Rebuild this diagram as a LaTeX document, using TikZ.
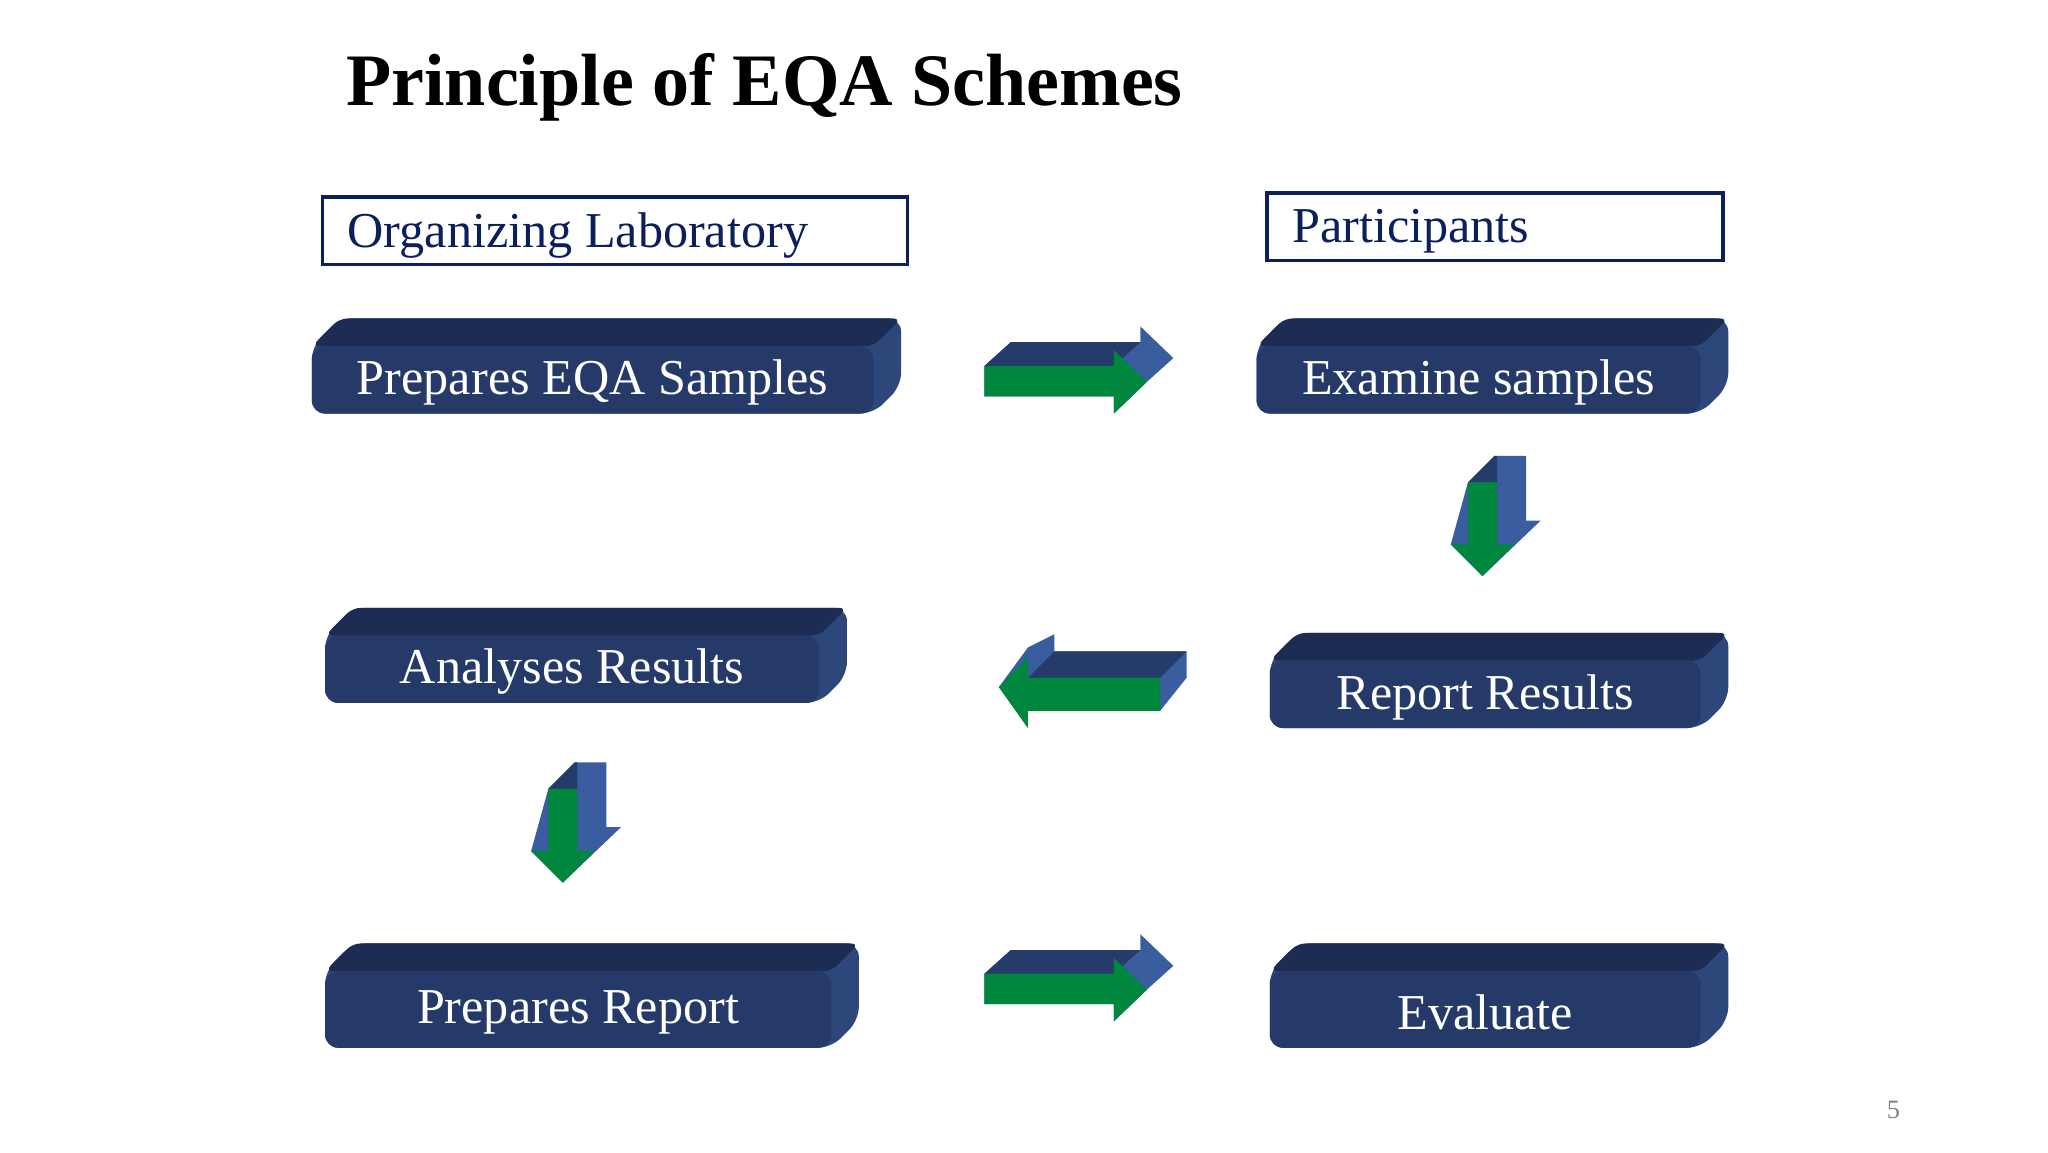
\documentclass[tikz,border=0pt]{standalone}
\usepackage{fontspec}
\setmainfont{Liberation Serif}
\definecolor{fr}{HTML}{253A68}
\definecolor{tp}{HTML}{1C2C52}
\definecolor{sd}{HTML}{2E477A}
\definecolor{ab}{HTML}{3A5DA0}
\definecolor{ag}{HTML}{00873E}
\definecolor{nv}{HTML}{0A1F5C}
\newcommand\slab[6]{%
 \fill[sd,rounded corners=5pt] (#1,#4) -- (#1,{#2+21}) -- ({#1+21},#2) -- (#3,#2) -- (#3,{#4-21}) -- ({#3-21},#4) -- cycle;
 \fill[tp,rounded corners=3pt] (#1,{#2+21}) -- ({#1+21},#2) -- (#3,#2) -- ({#3-21},{#2+21}) -- cycle;
 \fill[fr,rounded corners=5pt] (#1,{#2+21}) rectangle ({#3-21},#4);
 \node[boxtext] (#5) at ({(#1+#3-21)/2},{(#2+21+#4)/2+2}) {#6};}
\tikzset{boxtext/.style={text=white,font=\fontsize{19}{22}\selectfont},
 hdr/.style={draw=nv,line width=1.5pt,text=nv,font=\fontsize{19}{22}\selectfont,anchor=west,inner sep=0},
 arr/.style={fill=ag}, arrb/.style={fill=ab}}
\begin{document}
\begin{tikzpicture}[x=0.5pt,y=-0.5pt]
\useasboundingbox (0,0) rectangle (1550,872);
\node[font=\fontsize{28}{32}\selectfont\bfseries,anchor=west] (title) at (255,66) {Principle of EQA Schemes};
\draw[nv,line width=1.3pt] (244,149) rectangle (687,200);
\node[text=nv,font=\fontsize{19}{22}\selectfont,anchor=west] (org) at (256,178) {Organizing Laboratory};
\draw[nv,line width=1.3pt] (959,146) rectangle (1304,197);
\node[text=nv,font=\fontsize{19}{22}\selectfont,anchor=west] (par) at (971,175) {Participants};
\slab{236}{241}{682}{313}{b1}{Prepares EQA Samples}
\slab{951}{241}{1308}{313}{b2}{Examine samples}
\slab{246}{460}{641}{532}{b3}{Analyses Results}
\slab{961}{479}{1308}{551}{b4}{Report Results}
\slab{246}{714}{650}{793}{b5}{Prepares Report}
\slab{961}{714}{1308}{793}{b6}{Evaluate}
% right arrows
\foreach \yy/\nm in {0/r1,460/r2}{
 \begin{scope}[yshift=-\yy*0.5pt]
 \fill[ab] (745,277) -- (765,259) -- (863,259) -- (863,247) -- (888,271) -- (868,289) -- (843,313) -- (843,300) -- (745,300) -- cycle;
 \fill[tp!70!ab] (745,277) -- (765,259) -- (863,259) -- (843,277) -- cycle;
 \fill[arr] (745,277) -- (843,277) -- (843,265) -- (868,289) -- (843,313) -- (843,300) -- (745,300) -- cycle;
 \coordinate (\nm) at (815,288);
 \end{scope}}
% left arrow
\fill[ab] (756,520) -- (778,490) -- (798,480) -- (798,493) -- (898,493) -- (898,513) -- (878,538) -- (778,538) -- (778,551) -- cycle;
\fill[tp!70!ab] (778,513) -- (798,493) -- (898,493) -- (878,513) -- cycle;
\fill[arr] (756,520) -- (778,497) -- (778,513) -- (878,513) -- (878,538) -- (778,538) -- (778,551) -- cycle;
\coordinate (l1) at (830,525);
% down arrows
\foreach \xx/\yy/\nm in {0/0/d1,-696/232/d2}{
 \begin{scope}[xshift=\xx*0.5pt,yshift=-\yy*0.5pt]
 \fill[ab] (1111,365) -- (1131,345) -- (1155,345) -- (1155,394) -- (1166,394) -- (1122,436) -- (1098,412) -- cycle;
 \fill[tp!70!ab] (1111,365) -- (1131,345) -- (1133,345) -- (1133,365) -- cycle;
 \fill[arr] (1111,365) -- (1133,365) -- (1133,412) -- (1146,412) -- (1122,436) -- (1098,412) -- (1111,412) -- cycle;
 \coordinate (\nm) at (1122,400);
 \end{scope}}
\node[text=gray,font=\fontsize{10}{12}\selectfont] (pg) at (1433,840) {5};
\end{tikzpicture}
\end{document}
